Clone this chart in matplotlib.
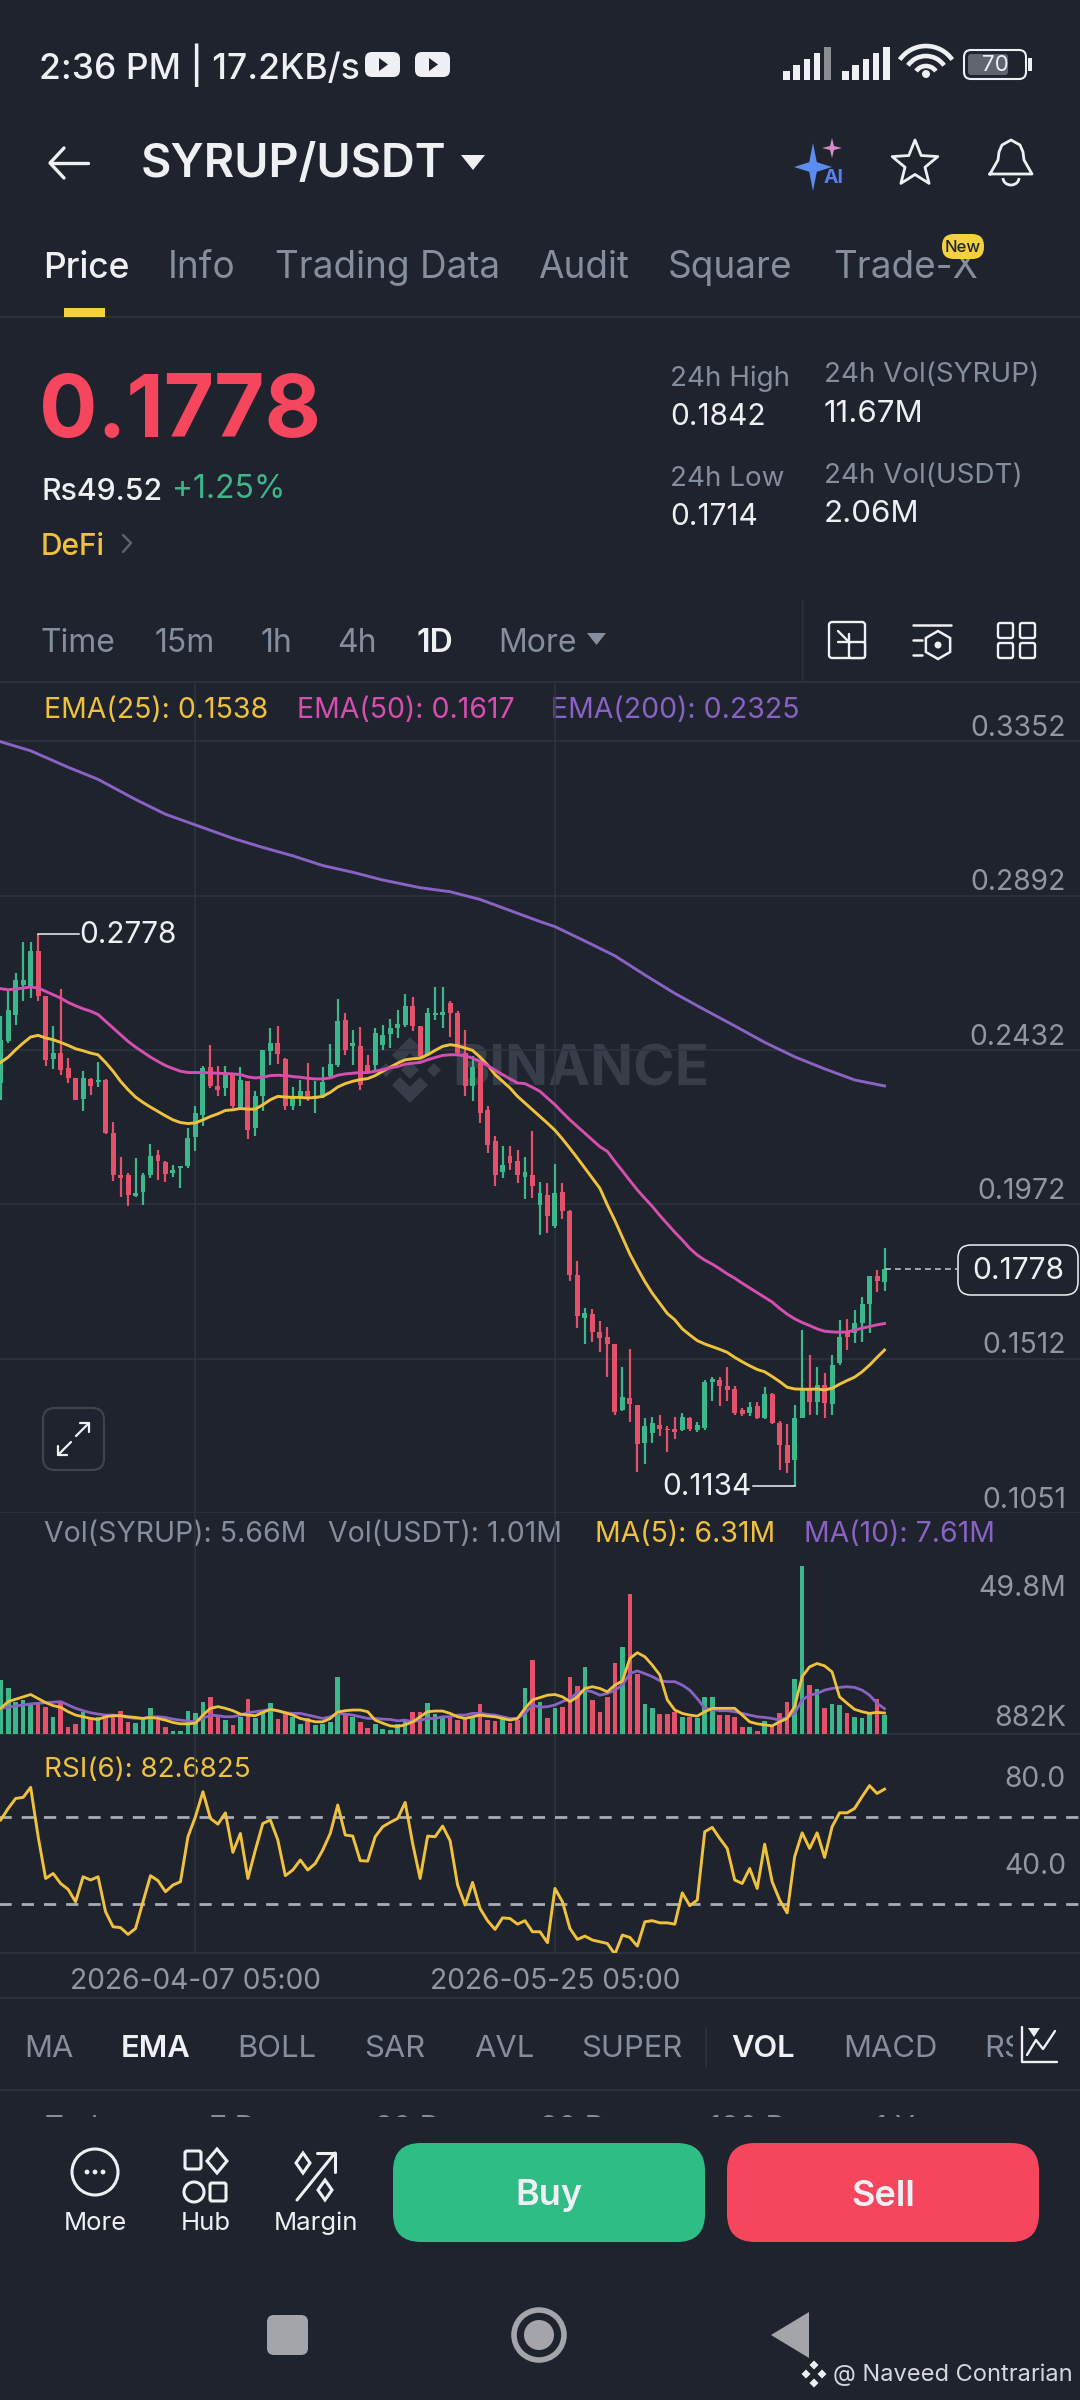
import numpy as np
import matplotlib
matplotlib.use('Agg')
import matplotlib.pyplot as plt
from matplotlib.patches import FancyBboxPatch, Rectangle, Circle, Polygon, Arc

plt.rcParams['font.family'] = ['Inter', 'DejaVu Sans']

# Candles, in 1/10000 of a USDT
candle_high = np.array([
    2533, 2607, 2662, 2754, 2754, 2778, 2594, 2505, 2615, 2408,
    2349, 2371, 2349, 2396, 2346, 2217, 2113, 2065, 2110, 2067,
    2152, 2135, 2100, 2090, 2085, 2200, 2264, 2386, 2448, 2385,
    2386, 2364, 2381, 2339, 2309, 2431, 2498, 2505, 2408, 2322,
    2344, 2393, 2339, 2383, 2451, 2584, 2543, 2493, 2501, 2418,
    2498, 2508, 2525, 2552, 2599, 2589, 2505, 2557, 2620, 2620,
    2577, 2548, 2493, 2413, 2403, 2264, 2175, 2145, 2145, 2133,
    2113, 2190, 2040, 2037, 2093, 2037, 1956, 1802, 1662, 1659,
    1625, 1608, 1556, 1488, 1542, 1374, 1334, 1337, 1344, 1311,
    1339, 1349, 1339, 1324, 1449, 1459, 1459, 1488, 1432, 1364,
    1384, 1384, 1429, 1409, 1327, 1317, 1374, 1598, 1523, 1488,
    1469, 1523, 1626, 1631, 1657, 1695, 1759, 1775, 1842]) / 10000
candle_low = np.array([
    2284, 2453, 2508, 2577, 2587, 2577, 2386, 2376, 2359, 2334,
    2284, 2249, 2297, 2321, 2183, 2043, 1993, 1968, 1993, 1971,
    2052, 2046, 2038, 2054, 2021, 2082, 2130, 2207, 2319, 2294,
    2294, 2259, 2254, 2168, 2175, 2249, 2388, 2391, 2252, 2254,
    2266, 2279, 2244, 2289, 2352, 2383, 2418, 2388, 2312, 2364,
    2374, 2433, 2438, 2468, 2501, 2488, 2405, 2413, 2521, 2498,
    2471, 2418, 2294, 2281, 2215, 2125, 2028, 2050, 2075, 2036,
    1988, 1991, 1881, 1888, 1901, 1928, 1745, 1603, 1556, 1561,
    1533, 1459, 1344, 1357, 1324, 1175, 1198, 1262, 1282, 1233,
    1273, 1298, 1298, 1295, 1300, 1387, 1371, 1387, 1344, 1342,
    1342, 1331, 1331, 1317, 1180, 1170, 1134, 1334, 1344, 1344,
    1336, 1344, 1493, 1538, 1558, 1563, 1590, 1712, 1714]) / 10000
candle_open = np.array([
    2334, 2458, 2538, 2627, 2622, 2726, 2592, 2405, 2423, 2379,
    2349, 2287, 2347, 2336, 2344, 2185, 2060, 2060, 1996, 2009,
    2060, 2120, 2098, 2065, 2082, 2085, 2173, 2239, 2383, 2324,
    2319, 2357, 2262, 2339, 2200, 2294, 2428, 2453, 2405, 2266,
    2289, 2309, 2287, 2299, 2354, 2388, 2521, 2443, 2443, 2388,
    2388, 2448, 2480, 2498, 2508, 2562, 2503, 2418, 2538, 2536,
    2572, 2543, 2423, 2324, 2393, 2254, 2160, 2070, 2115, 2100,
    2055, 2060, 1970, 2000, 1908, 2010, 1951, 1762, 1632, 1645,
    1593, 1576, 1555, 1359, 1394, 1374, 1260, 1290, 1314, 1304,
    1302, 1300, 1336, 1300, 1305, 1442, 1449, 1431, 1421, 1359,
    1349, 1371, 1334, 1407, 1319, 1255, 1210, 1336, 1419, 1384,
    1434, 1377, 1498, 1593, 1590, 1618, 1675, 1759, 1742]) / 10000
candle_close = np.array([
    2463, 2552, 2642, 2642, 2726, 2592, 2403, 2423, 2374, 2349,
    2284, 2349, 2324, 2344, 2185, 2060, 2052, 2001, 2006, 2060,
    2115, 2100, 2063, 2075, 2085, 2170, 2244, 2379, 2324, 2312,
    2357, 2264, 2344, 2195, 2294, 2431, 2453, 2421, 2264, 2294,
    2309, 2292, 2294, 2336, 2391, 2518, 2433, 2453, 2329, 2366,
    2483, 2478, 2498, 2511, 2562, 2503, 2413, 2543, 2543, 2545,
    2543, 2423, 2324, 2383, 2244, 2150, 2060, 2090, 2095, 2060,
    2070, 2026, 2005, 1936, 2007, 1951, 1762, 1638, 1647, 1593,
    1573, 1556, 1354, 1397, 1376, 1258, 1311, 1319, 1302, 1299,
    1295, 1339, 1302, 1314, 1442, 1451, 1431, 1419, 1349, 1347,
    1369, 1334, 1407, 1319, 1255, 1200, 1334, 1421, 1384, 1434,
    1379, 1493, 1578, 1576, 1618, 1675, 1759, 1745, 1778]) / 10000

ema25 = np.array([
    2395, 2411, 2433, 2453, 2471, 2476, 2468, 2463, 2455, 2446,
    2436, 2430, 2423, 2418, 2395, 2369, 2339, 2314, 2292, 2276,
    2262, 2249, 2236, 2224, 2216, 2213, 2215, 2224, 2234, 2242,
    2252, 2254, 2258, 2256, 2256, 2269, 2284, 2294, 2292, 2291,
    2291, 2289, 2291, 2294, 2306, 2322, 2332, 2339, 2344, 2347,
    2356, 2369, 2381, 2393, 2403, 2406, 2408, 2418, 2431, 2443,
    2448, 2445, 2438, 2431, 2411, 2388, 2359, 2339, 2319, 2294,
    2274, 2254, 2234, 2214, 2193, 2167, 2139, 2110, 2080, 2050,
    2020, 1970, 1924, 1874, 1824, 1782, 1742, 1707, 1677, 1647,
    1628, 1601, 1583, 1566, 1556, 1548, 1540, 1531, 1516, 1503,
    1491, 1480, 1473, 1459, 1444, 1427, 1422, 1421, 1421, 1422,
    1419, 1424, 1436, 1447, 1457, 1473, 1493, 1516, 1538]) / 10000
ema50 = np.array([
    2615, 2612, 2614, 2617, 2620, 2617, 2607, 2597, 2587, 2574,
    2564, 2555, 2548, 2538, 2518, 2498, 2478, 2458, 2441, 2426,
    2411, 2398, 2386, 2377, 2369, 2365, 2365, 2365, 2364, 2363,
    2362, 2361, 2359, 2352, 2349, 2351, 2356, 2357, 2356, 2353,
    2351, 2348, 2346, 2346, 2349, 2357, 2361, 2363, 2365, 2365,
    2369, 2374, 2379, 2383, 2390, 2393, 2395, 2403, 2410, 2416,
    2418, 2418, 2415, 2408, 2398, 2386, 2372, 2359, 2346, 2334,
    2332, 2321, 2309, 2289, 2269, 2246, 2224, 2204, 2184, 2164,
    2144, 2130, 2100, 2072, 2043, 2015, 1990, 1966, 1939, 1914,
    1889, 1866, 1841, 1821, 1806, 1794, 1780, 1765, 1752, 1737,
    1723, 1709, 1695, 1681, 1662, 1645, 1631, 1620, 1611, 1601,
    1594, 1592, 1591, 1592, 1597, 1603, 1608, 1613, 1617]) / 10000
ema200_idx = [0, 4, 9, 13, 18, 22, 26, 31, 35, 39, 43, 47, 51, 56, 60, 64, 68,
              72, 74, 78, 82, 86, 90, 94, 98, 102, 106, 110, 114, 118]
ema200 = np.array([3351, 3324, 3275, 3239, 3179, 3135, 3103, 3063, 3036, 3011,
                   2982, 2962, 2939, 2916, 2904, 2881, 2848, 2815, 2800, 2757,
                   2713, 2656, 2601, 2552, 2504, 2455, 2412, 2376, 2343, 2325]) / 10000

# Volume, millions of SYRUP
volume = np.array([
    16.1, 13.6, 9.7, 10.2, 9.2, 9.0, 8.2, 5.2, 9.2, 2.3,
    3.0, 6.5, 4.4, 5.2, 5.2, 5.4, 7.0, 3.5, 3.3, 5.2,
    7.7, 4.2, 2.3, 1.1, 1.1, 7.0, 6.2, 9.7, 11.1, 5.7,
    4.2, 2.7, 5.2, 10.4, 4.7, 6.2, 9.2, 4.4, 6.5, 5.0,
    3.1, 4.7, 2.8, 3.1, 3.5, 17.1, 6.2, 5.0, 3.5, 2.0,
    3.1, 1.5, 1.3, 3.1, 4.2, 6.5, 6.5, 9.2, 6.0, 5.2,
    4.7, 4.2, 4.7, 4.7, 9.0, 4.2, 4.0, 5.0, 3.3, 4.2,
    13.8, 22.0, 9.7, 4.7, 7.7, 8.2, 16.9, 14.3, 20.0, 10.2,
    6.5, 11.1, 21.2, 25.9, 41.7, 18.0, 9.0, 7.7, 5.9, 5.9,
    6.7, 5.2, 5.2, 4.7, 11.1, 11.1, 5.7, 5.7, 5.0, 2.3,
    2.1, 1.0, 4.0, 2.3, 6.2, 9.7, 16.3, 49.8, 14.6, 13.4,
    7.7, 9.0, 8.7, 6.4, 5.0, 4.7, 6.2, 10.6, 5.66])
vol_ma5 = np.array([
    7.7, 9.7, 10.4, 11.1, 11.8, 10.6, 9.4, 8.5, 8.0, 6.7,
    5.7, 5.2, 4.7, 4.4, 5.2, 5.5, 5.5, 5.2, 5.0, 4.7,
    5.0, 4.7, 4.2, 3.5, 3.1, 3.1, 3.3, 5.7, 7.7, 8.2,
    7.7, 7.0, 6.0, 5.7, 5.5, 6.5, 7.4, 7.0, 6.4, 5.7,
    4.7, 4.2, 3.7, 3.7, 4.7, 6.6, 7.0, 7.2, 7.2, 6.7,
    4.2, 3.3, 2.5, 2.3, 2.8, 3.7, 5.2, 6.7, 6.9, 6.9,
    6.2, 5.2, 4.7, 5.2, 5.7, 5.4, 5.2, 4.7, 4.2, 4.7,
    7.7, 10.2, 10.9, 11.6, 11.8, 11.1, 9.7, 11.1, 13.6, 14.1,
    13.6, 12.6, 14.6, 15.8, 22.5, 24.2, 23.0, 20.5, 17.6, 10.2,
    7.2, 6.2, 5.7, 5.4, 6.7, 7.7, 7.7, 7.7, 7.7, 5.7,
    3.7, 3.1, 2.8, 2.5, 3.7, 4.7, 8.2, 17.1, 20.0, 21.0,
    20.3, 18.5, 11.1, 9.2, 7.4, 6.7, 6.2, 6.5, 6.31])
vol_ma10 = np.array([
    7.7, 8.0, 8.4, 8.7, 9.0, 9.2, 9.4, 9.5, 9.7, 8.7,
    7.7, 7.0, 6.4, 6.0, 5.7, 5.7, 5.4, 5.0, 4.7, 4.7,
    5.2, 5.2, 5.0, 4.5, 4.2, 3.9, 3.7, 4.7, 5.7, 5.5,
    5.2, 5.2, 5.7, 6.4, 6.7, 7.0, 7.4, 6.9, 6.4, 6.2,
    6.2, 5.7, 5.2, 4.7, 5.2, 6.2, 6.0, 5.7, 5.2, 4.7,
    4.7, 4.5, 4.4, 4.0, 4.2, 3.7, 4.2, 4.7, 4.7, 5.2,
    5.2, 5.7, 5.7, 6.2, 6.2, 5.9, 5.7, 5.2, 4.7, 4.7,
    6.2, 8.7, 8.0, 8.2, 8.7, 9.7, 10.6, 12.3, 13.1, 12.6,
    11.6, 12.1, 13.1, 14.6, 18.0, 18.8, 18.0, 17.1, 15.9, 15.6,
    15.6, 14.6, 13.1, 10.6, 7.7, 7.4, 7.0, 7.0, 6.7, 6.2,
    5.7, 5.2, 5.0, 4.7, 4.2, 5.0, 6.2, 10.2, 11.6, 12.1,
    13.1, 13.6, 13.9, 14.1, 13.9, 13.1, 11.6, 9.2, 7.61])

rsi6 = np.array([
    68.5, 73.8, 78.4, 78.9, 83.5, 60.8, 41.6, 43.9, 39.3, 36.6,
    30.9, 42.4, 40.9, 42.4, 26.3, 19.4, 19.0, 15.9, 18.6, 30.9,
    42.9, 40.6, 35.5, 38.6, 40.1, 60.8, 70.0, 81.5, 69.2, 66.6,
    71.8, 53.6, 62.3, 41.6, 54.7, 66.9, 68.5, 59.3, 42.9, 45.5,
    50.1, 45.5, 48.5, 54.7, 62.3, 75.4, 61.6, 61.1, 49.8, 49.6,
    60.8, 65.4, 67.4, 69.2, 76.6, 57.7, 41.6, 61.1, 60.8, 65.7,
    59.0, 38.6, 29.4, 39.8, 27.8, 22.2, 18.2, 23.5, 23.2, 20.6,
    22.2, 17.1, 17.1, 12.1, 37.0, 30.9, 18.6, 13.6, 15.1, 13.3,
    12.5, 11.7, 6.8, 15.6, 14.5, 10.5, 21.7, 22.2, 21.2, 21.2,
    20.6, 35.0, 29.1, 31.7, 63.1, 65.1, 60.0, 55.4, 40.9, 39.3,
    46.2, 37.0, 57.4, 40.1, 31.7, 25.8, 51.6, 62.6, 55.4, 62.6,
    51.3, 65.4, 71.8, 71.8, 73.8, 79.2, 84.3, 80.7, 82.68])

price_ticks = [0.3352, 0.2892, 0.2432, 0.1972, 0.1512, 0.1051]
rsi_ticks = [80.0, 40.0]
rsi_bands = [70, 30]
date_idx = [26, 74]
date_labels = ['2026-04-07 05:00', '2026-05-25 05:00']
tabs = ['Price', 'Info', 'Trading Data', 'Audit', 'Square', 'Trade-X']
tab_x = [43, 168, 275, 538, 668, 833]
periods = ['Time', '15m', '1h', '4h', '1D', 'More']
period_x = [41, 155, 261, 337, 417, 498]
indicators = ['MA', 'EMA', 'BOLL', 'SAR', 'AVL', 'SUPER', 'VOL', 'MACD', 'RSI']
indicator_x = [24, 121, 237, 364, 474, 581, 731, 843, 984]
ranges = ['Today', '7 Days', '30 Days', '90 Days', '180 Days', '1 Y']
range_x = [45, 210, 375, 540, 709, 875]

BG = '#1E232D'
GRID = '#2E343F'
GREEN = '#3BB78B'
RED = '#E5506B'
BUY = '#2EBD85'
SELL = '#F6465D'
YELLOW = '#F0C23C'
MAGENTA = '#D64FB0'
PURPLE = '#8A62C4'
GREY = '#848E9C'
AXIS = '#8F97A3'
WHITE = '#EEF0F3'
MARK = '#383E49'

fig = plt.figure(figsize=(10.8, 24), dpi=100, facecolor=BG)

# whole-screen axes in pixels for the app chrome
ui = fig.add_axes([0, 0, 1, 1], zorder=0)
ui.set_xlim(0, 1080)
ui.set_ylim(2400, 0)
ui.axis('off')


def txt(x, y, s, size=20.5, color=WHITE, weight='normal', ha='left', zorder=5):
    ui.text(x, y, s, fontsize=size, color=color, fontweight=weight, ha=ha, va='center', zorder=zorder)


def box(x0, y0, x1, y1, r, fc='none', ec='none', lw=0, zorder=3):
    ui.add_patch(FancyBboxPatch((x0 + r, y0 + r), x1 - x0 - 2 * r, y1 - y0 - 2 * r,
                                boxstyle=f'round,pad={r},rounding_size={r}',
                                fc=fc, ec=ec, lw=lw, zorder=zorder))


def line(xs, ys, color=WHITE, lw=2, zorder=4):
    ui.plot(xs, ys, color=color, lw=lw, solid_capstyle='round', solid_joinstyle='round', zorder=zorder)


def sep(y):
    ui.plot([0, 1080], [y, y], color=GRID, lw=1.2, zorder=1)


# chart panels
def panel(top, bottom):
    ax = fig.add_axes([0, 1 - bottom / 2400, 1, (bottom - top) / 2400], zorder=2)
    ax.patch.set_alpha(0)
    ax.axis('off')
    ax.set_xlim(-0.7 / 7.49, 1079.3 / 7.49)
    return ax


idx = np.arange(len(candle_close))
colors = [GREEN if c >= o else RED for o, c in zip(candle_open, candle_close)]

ax_p = panel(681.7, 1513.4)
ax_p.set_ylim(0.1051, 0.3530)
ax_v = panel(1513.4, 1734.3)
ax_v.set_ylim(0, 65.5)
ax_r = panel(1734.3, 1953.3)
ax_r.set_ylim(7.2, 107.9)

# grid
ax_p.hlines(price_ticks, -1, 150, color=GRID, lw=1.1, zorder=1)
for ax in (ax_p, ax_v, ax_r):
    ax.vlines(date_idx, *ax.get_ylim(), color=GRID, lw=1.1, zorder=1)
for y in (681.7, 1734.3, 1953.3, 1998, 2090, 317):
    sep(y)

# watermark behind the candles
ui.text(452, 1071, 'BINANCE', fontsize=40.5, color=MARK, fontweight='bold', va='center', zorder=1)
ui.add_patch(Polygon([(410, 1037), (428, 1055), (420, 1063), (410, 1053), (400, 1063), (392, 1055)], fc=MARK, zorder=1))
ui.add_patch(Polygon([(410, 1103), (428, 1085), (420, 1077), (410, 1087), (400, 1077), (392, 1085)], fc=MARK, zorder=1))
for cx, s in [(410, 9), (386, 7), (434, 7)]:
    ui.add_patch(Polygon([(cx - s, 1070), (cx, 1070 - s), (cx + s, 1070), (cx, 1070 + s)], fc=MARK, zorder=1))

# candles
ax_p.vlines(idx, candle_low, candle_high, color=colors, lw=1.6, zorder=3)
ax_p.bar(idx, np.abs(candle_close - candle_open), bottom=np.minimum(candle_open, candle_close),
         width=0.66, color=colors, zorder=3)
ax_p.plot(idx, ema25, color=YELLOW, lw=2.1, zorder=4)
ax_p.plot(idx, ema50, color=MAGENTA, lw=2.1, zorder=4)
ax_p.plot(ema200_idx, ema200, color=PURPLE, lw=2.1, zorder=4)

# highest / lowest marks
ax_p.plot([5, 10.4], [candle_high[5]] * 2, color=WHITE, lw=1.1, zorder=5)
ax_p.text(10.5, candle_high[5] - 0.0003, f'{candle_high[5]:.4f}', fontsize=21.4, color=WHITE, va='center', zorder=5)
ax_p.plot([106, 100.5], [candle_low[106]] * 2, color=WHITE, lw=1.1, zorder=5)
ax_p.text(100.3, candle_low[106] - 0.0003, f'{candle_low[106]:.4f}', fontsize=21.4, color=WHITE, va='center', ha='right', zorder=5)

# last price
ax_p.plot([118, 127.8], [candle_close[-1]] * 2, color='#B9BEC6', lw=1.2, ls=(0, (3.5, 2.5)), zorder=3)
box(958, 1245, 1078, 1295, 13, fc=BG, ec=WHITE, lw=1.1, zorder=3)
txt(1018, 1271, f'{candle_close[-1]:.4f}', size=21.6, ha='center')

# axis values sit above their grid line
for t in price_ticks:
    ax_p.annotate(f'{t:.4f}', xy=(1, t), xycoords=('axes fraction', 'data'), xytext=(-14, 13),
                  textcoords='offset pixels', ha='right', va='center', fontsize=20.4, color=AXIS)
for t in rsi_ticks:
    ax_r.annotate(f'{t:.1f}', xy=(1, t), xycoords=('axes fraction', 'data'), xytext=(-14, 15),
                  textcoords='offset pixels', ha='right', va='center', fontsize=20.4, color=AXIS)
txt(1066, 1589, '49.8M', color=AXIS, ha='right')
txt(1066, 1718, '882K', color=AXIS, ha='right')

# volume
ax_v.bar(idx, volume, width=0.62, color=colors, zorder=3)
ax_v.plot(idx, vol_ma10, color=PURPLE, lw=2, zorder=4)
ax_v.plot(idx, vol_ma5, color=YELLOW, lw=2, zorder=4)

# rsi
ax_r.hlines(rsi_bands, -1, 150, color='#A9ADB3', lw=2, ls=(0, (4.4, 3.6)), zorder=3)
ax_r.plot(idx, rsi6, color=YELLOW, lw=2.1, zorder=4)

for i, lab in zip(date_idx, date_labels):
    ax_r.annotate(lab, xy=(i, 0), xycoords=('data', 'axes fraction'), xytext=(0, -28),
                  textcoords='offset pixels', ha='center', va='center', fontsize=20.3, color=AXIS,
                  annotation_clip=False)

# chart legends
txt(44, 711, 'EMA(25): 0.1538', color=YELLOW)
txt(297, 711, 'EMA(50): 0.1617', color=MAGENTA)
txt(551, 711, 'EMA(200): 0.2325', color=PURPLE)
txt(44, 1535, 'Vol(SYRUP): 5.66M', color=GREY)
txt(328, 1535, 'Vol(USDT): 1.01M', color=GREY)
txt(595, 1535, 'MA(5): 6.31M', color=YELLOW)
txt(804, 1535, 'MA(10): 7.61M', color=PURPLE)
txt(44, 1770, 'RSI(6): 82.6825', size=20, color=YELLOW)

# expand button
box(43, 1408, 104, 1470, 12, ec='#3D434F', lw=1.6)
line([58, 71], [1455, 1442], lw=1.6)
line([76, 89], [1436, 1423], lw=1.6)
line([58, 58, 67], [1446, 1455, 1455], lw=1.6)
line([80, 89, 89], [1423, 1423, 1432], lw=1.6)

# status bar
txt(39, 65, '2:36 PM | 17.2KB/s', size=25.5, weight='medium')
for x0 in (365, 415):
    box(x0, 52, x0 + 35, 77, 7, fc=WHITE)
    ui.add_patch(Polygon([(x0 + 14, 58), (x0 + 14, 71), (x0 + 23, 64.5)], fc=BG, zorder=4))
for x0, n_dim in ((783, 1), (842, 0)):
    for k in range(5):
        c = '#8A8D92' if k == 4 and n_dim else WHITE
        ui.add_patch(Rectangle((x0 + k * 10.3, 80 - (9 + k * 6)), 6.5, 9 + k * 6, fc=c, zorder=4))
for r in (10, 20, 30):
    ui.add_patch(Arc((926, 78), 2 * r + 4, 2 * r + 4, theta1=215, theta2=325, color=WHITE, lw=3.3, zorder=4))
ui.add_patch(Circle((926, 74), 4, fc=WHITE, zorder=4))
box(964, 50, 1026, 79, 7, ec=WHITE, lw=1.5)
box(968, 54, 1008, 75, 3, fc='#60646C')
ui.add_patch(Rectangle((1028, 58), 4, 13, fc=WHITE, zorder=4))
txt(995, 65, '70', size=16, ha='center')

# header
line([52, 88], [163, 163], lw=2.4)
line([64, 50, 64], [148, 163, 178], lw=2.4)
txt(141, 165, 'SYRUP/USDT', size=33.7, weight='semibold')
ui.add_patch(Polygon([(461, 155), (485, 155), (473, 170)], fc=WHITE, zorder=4))


def sparkle(cx, cy, rx, ry, color):
    ui.add_patch(Polygon([(cx - rx, cy), (cx - rx * .2, cy - ry * .2), (cx, cy - ry), (cx + rx * .2, cy - ry * .2),
                          (cx + rx, cy), (cx + rx * .2, cy + ry * .2), (cx, cy + ry), (cx - rx * .2, cy + ry * .2)],
                         fc=color, zorder=4))


sparkle(813, 167, 19, 24, '#5B8DF0')
sparkle(832, 148, 10, 10, '#D58BC4')
txt(833, 178, 'AI', size=14, color='#5B7FF0', weight='bold', ha='center')
star_a = np.deg2rad(np.arange(10) * 36 - 90)
star_r = np.array([24, 10.5] * 5)
ui.add_patch(Polygon(np.c_[915 + star_r * np.cos(star_a), 164 + star_r * np.sin(star_a)], fc='none',
                     ec=WHITE, lw=2, zorder=4, joinstyle='round'))
bell_x = [990, 998, 999, 1002, 1011, 1020, 1023, 1024, 1032, 990]
bell_y = [174, 160, 152, 145, 140, 145, 152, 160, 174, 174]
ui.plot(bell_x, bell_y, color=WHITE, lw=2, solid_joinstyle='round', zorder=4)
ui.add_patch(Arc((1011, 178), 16, 14, theta1=0, theta2=180, color=WHITE, lw=2, zorder=4))

# tabs
for i, (name, x) in enumerate(zip(tabs, tab_x)):
    txt(x, 268, name, size=25.5 if i == 0 else 26.6, color=WHITE if i == 0 else GREY,
        weight='medium' if i == 0 else 'normal')
ui.add_patch(Rectangle((64, 308), 41, 9, fc='#F5D140', zorder=4))
box(942, 234, 984, 259, 12, fc='#F5D140', zorder=6)
txt(963, 247, 'New', size=12, color='#1E2329', weight='medium', ha='center', zorder=7)

# price block
txt(39, 414, '0.1778', size=62.5, color=SELL, weight='bold')
txt(41, 492, 'Rs49.52', size=21.8, weight='medium')
txt(172, 490, '+1.25%', size=23, color=GREEN)
txt(41, 547, 'DeFi', size=21.5, color=YELLOW, weight='medium')
line([123, 131, 123], [535, 543, 552], color='#5E646E', lw=1.7)
txt(670, 379, '24h High', size=20, color=GREY)
txt(670, 417, '0.1842', size=21.5)
txt(670, 479, '24h Low', size=20, color=GREY)
txt(670, 517, '0.1714', size=21.5)
txt(824, 375, '24h Vol(SYRUP)', size=20, color=GREY)
txt(824, 414, '11.67M', size=22.5)
txt(824, 476, '24h Vol(USDT)', size=20, color=GREY)
txt(824, 514, '2.06M', size=22.5)

# period row
for name, x in zip(periods, period_x):
    txt(x, 644, name, size=23, color=WHITE if name == '1D' else GREY, weight='semibold' if name == '1D' else 'normal')
ui.add_patch(Polygon([(587, 633), (606, 633), (596.5, 645)], fc=GREY, zorder=4))
ui.plot([802, 802], [600, 680], color=GRID, lw=1, zorder=1)
box(829, 622, 865, 658, 3, ec=WHITE, lw=1.7)
box(849, 642, 865, 658, 2, fc=BG, ec=WHITE, lw=1.7, zorder=4)
line([838, 849], [631, 642], lw=1.7)
line([838, 849, 849], [642, 642, 634], lw=1.7, zorder=4)
line([913, 951], [625, 625], lw=1.8)
line([913, 922], [640, 640], lw=1.8)
line([913, 922], [655, 655], lw=1.8)
hex_a = np.deg2rad(np.arange(6) * 60 + 30)
ui.add_patch(Polygon(np.c_[938 + 14 * np.cos(hex_a), 645 + 14 * np.sin(hex_a)], fc='none', ec=WHITE, lw=1.8, zorder=4))
ui.add_patch(Circle((938, 645), 3.5, fc=WHITE, zorder=4))
for x0 in (998, 1020):
    for y0 in (623, 643):
        box(x0, y0, x0 + 15, y0 + 15, 2, ec=WHITE, lw=1.7)

# indicator row
for name, x in zip(indicators, indicator_x):
    on = name in ('EMA', 'VOL')
    txt(x, 2049, name, size=22.3, color=WHITE if on else GREY, weight='semibold' if on else 'normal', zorder=2)
ui.add_patch(Rectangle((1013, 2015), 67, 65, fc=BG, zorder=3))
ui.plot([706, 706], [2028, 2066], color=GRID, lw=1.1, zorder=2)
line([1022, 1022, 1057], [2027, 2062, 2062], lw=1.7)
line([1027, 1036, 1043, 1055], [2055, 2040, 2049, 2031], lw=1.7)
ui.add_patch(Polygon([(1028, 2028), (1040, 2028), (1034, 2037)], fc=WHITE, zorder=4))

# row scrolled under the bottom bar
for name, x in zip(ranges, range_x):
    txt(x, 2128, name, size=21, color=GREY, zorder=2)
ui.add_patch(Rectangle((0, 2117), 1080, 283, fc=BG, zorder=3))

# bottom bar
ui.add_patch(Circle((95, 2172), 23, fc='none', ec=WHITE, lw=2.2, zorder=4))
for dx in (-8, 0, 8):
    ui.add_patch(Circle((95 + dx, 2172), 2.4, fc=WHITE, zorder=4))
box(185, 2151, 201, 2169, 2, ec=WHITE, lw=2.2, zorder=4)
ui.add_patch(Polygon([(217, 2149), (227, 2161), (217, 2173), (207, 2161)], fc='none', ec=WHITE, lw=2.2, zorder=4))
ui.add_patch(Circle((194, 2192), 10, fc='none', ec=WHITE, lw=2.2, zorder=4))
box(210, 2183, 226, 2201, 2, ec=WHITE, lw=2.2, zorder=4)
line([297, 335], [2200, 2153], lw=2.2)
line([317, 335, 335], [2153, 2153, 2172], lw=2.2)
ui.add_patch(Polygon([(303, 2153), (310, 2163), (303, 2173), (296, 2163)], fc='none', ec=WHITE, lw=2.2, zorder=4))
ui.add_patch(Polygon([(325, 2180), (332, 2190), (325, 2200), (318, 2190)], fc='none', ec=WHITE, lw=2.2, zorder=4))
txt(95, 2223, 'More', size=18.5, ha='center')
txt(206, 2223, 'Hub', size=18.5, ha='center')
txt(316, 2223, 'Margin', size=18.5, ha='center')
box(393, 2143, 705, 2242, 28, fc=BUY, zorder=4)
box(727, 2143, 1039, 2242, 28, fc=SELL, zorder=4)
txt(549, 2196, 'Buy', size=26, weight='semibold', ha='center')
txt(883, 2196, 'Sell', size=26, weight='semibold', ha='center')

# nav bar
NAV = '#A3A5AB'
box(267, 2315, 308, 2355, 7, fc=NAV)
ui.add_patch(Circle((539, 2335), 25, fc='none', ec=NAV, lw=4, zorder=4))
ui.add_patch(Circle((539, 2335), 15, fc=NAV, zorder=4))
ui.add_patch(Polygon([(771, 2335), (809, 2312), (809, 2358)], fc=NAV, zorder=4, joinstyle='round'))

# credit
for cx, cy in [(814, 2365), (806, 2374), (822, 2374), (814, 2383)]:
    ui.add_patch(Polygon([(cx - 4.5, cy), (cx, cy - 4.5), (cx + 4.5, cy), (cx, cy + 4.5)], fc=WHITE, zorder=6))
txt(833, 2375, '@ Naveed Contrarian', size=17, color='#D5D7DB', zorder=6)

fig.savefig('out.png', dpi=100, facecolor=BG)
